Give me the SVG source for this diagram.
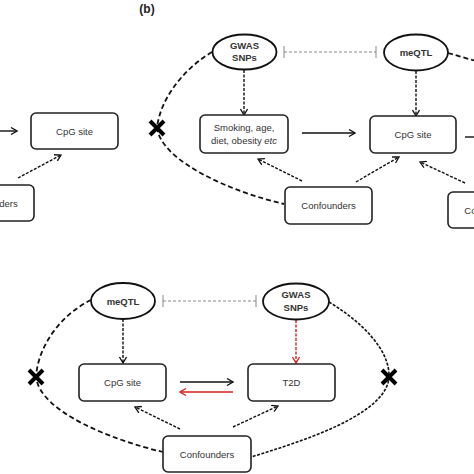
<svg xmlns="http://www.w3.org/2000/svg" width="474" height="474" viewBox="0 0 474 474">
<defs>
<style>
.box{fill:#fff;stroke:#222;stroke-width:1.6}
.ell{fill:#fff;stroke:#111;stroke-width:1.8}
.t{font-family:"Liberation Sans",Arial,sans-serif;font-size:9.5px;fill:#333;text-anchor:middle}
.tb{font-family:"Liberation Sans",Arial,sans-serif;font-size:9.5px;font-weight:bold;fill:#333;text-anchor:middle}
.solid{stroke:#111;stroke-width:1.4;fill:none}
.dash{stroke:#111;stroke-width:1.4;fill:none;stroke-dasharray:3,1.5}
.red{stroke:#d42020}
.curve{stroke:#111;stroke-width:1.8;fill:none;stroke-dasharray:5,3}
.inh{stroke:#888;stroke-width:1;fill:none;stroke-dasharray:3,2}
.bar{stroke:#888;stroke-width:1}
.x{stroke:#000;stroke-width:4}
</style>
<marker id="ah" viewBox="0 0 8 8" refX="7" refY="4" markerWidth="8" markerHeight="8" markerUnits="userSpaceOnUse" orient="auto">
<path d="M1,0.5 L7,4 L1,7.5" fill="none" stroke="#111" stroke-width="1.3"/>
</marker>
<marker id="ahr" viewBox="0 0 8 8" refX="7" refY="4" markerWidth="8" markerHeight="8" markerUnits="userSpaceOnUse" orient="auto">
<path d="M1,0.5 L7,4 L1,7.5" fill="none" stroke="#d42020" stroke-width="1.3"/>
</marker>
</defs>
<rect width="474" height="474" fill="#fff"/>
<text x="147" y="13" font-family="'Liberation Sans',Arial,sans-serif" font-size="12" font-weight="bold" fill="#222" text-anchor="middle">(b)</text>

<g id="connectors">
<line class="solid" x1="0" y1="131" x2="17" y2="131" marker-end="url(#ah)"/>
<line class="dash" x1="18" y1="178" x2="61" y2="155" marker-end="url(#ah)"/>
<path class="curve" d="M212,52 C182,70 160,100 157,128 C162,162 232,192 284,204"/>
<line class="inh" x1="284" y1="52" x2="376" y2="52"/>
<line class="bar" x1="284" y1="46" x2="284" y2="58"/>
<line class="bar" x1="376" y1="46" x2="376" y2="58"/>
<line class="dash" x1="244" y1="70" x2="244" y2="115" marker-end="url(#ah)"/>
<line class="dash" x1="416" y1="71" x2="416" y2="116" marker-end="url(#ah)"/>
<line class="solid" x1="302" y1="133" x2="355" y2="133" marker-end="url(#ah)"/>
<line class="solid" x1="465" y1="137" x2="480" y2="137"/>
<line class="curve" x1="448" y1="53" x2="476" y2="61"/>
<line class="dash" x1="302" y1="181" x2="258" y2="159" marker-end="url(#ah)"/>
<line class="dash" x1="356" y1="182" x2="399" y2="157" marker-end="url(#ah)"/>
<line class="dash" x1="465" y1="183" x2="420" y2="162" marker-end="url(#ah)"/>
<path class="curve" d="M91,300 C62,314 38,345 36,377 C40,412 112,440 163,452"/>
<path class="dash" style="stroke-width:1.6" d="M329,302 C362,322 390,350 389,377 C387,415 300,442 251,457"/>
<line class="inh" x1="163" y1="301" x2="256" y2="301"/>
<line class="bar" x1="163" y1="295" x2="163" y2="307"/>
<line class="bar" x1="256" y1="295" x2="256" y2="307"/>
<line class="dash" x1="123" y1="319" x2="123" y2="363" marker-end="url(#ah)"/>
<line class="dash red" x1="296" y1="320" x2="296" y2="363" marker-end="url(#ahr)"/>
<line class="solid" x1="180" y1="382" x2="233" y2="382" marker-end="url(#ah)"/>
<line class="solid red" x1="233" y1="392" x2="180" y2="392" marker-end="url(#ahr)"/>
<line class="dash" x1="180" y1="429" x2="135" y2="407" marker-end="url(#ah)"/>
<line class="dash" x1="233" y1="427" x2="278" y2="406" marker-end="url(#ah)"/>
<path class="x" d="M150,121 L164,135 M164,121 L150,135"/>
<path class="x" d="M29,370 L43,384 M43,370 L29,384"/>
<path class="x" d="M382,370 L396,384 M396,370 L382,384"/>
</g>

<g id="tl-cpg"><rect class="box" x="31" y="113" width="87" height="36" rx="5"/><text class="t" x="74.5" y="134.5">CpG site</text></g>
<g id="tl-conf"><rect class="box" x="-53" y="185" width="87" height="36" rx="5"/><text class="t" x="-9.5" y="206.5">Confounders</text></g>

<g id="gwas-top"><ellipse class="ell" cx="244.5" cy="52" rx="32" ry="17.5"/><text class="tb" x="244.5" y="49">GWAS</text><text class="tb" x="244.5" y="61">SNPs</text></g>
<g id="meqtl-top"><ellipse class="ell" cx="416" cy="52.5" rx="32" ry="18"/><text class="tb" x="416" y="56">meQTL</text></g>
<g id="smoking"><rect class="box" x="200" y="115" width="88" height="38" rx="5"/><text class="t" x="244" y="131">Smoking, age,</text><text class="t" x="244" y="143.5">diet, obesity <tspan font-style="italic">etc</tspan></text></g>
<g id="cpg-top"><rect class="box" x="370" y="116" width="86" height="37" rx="5"/><text class="t" x="413" y="138">CpG site</text></g>
<g id="conf-top"><rect class="box" x="285" y="187" width="87" height="37" rx="5"/><text class="t" x="328.5" y="209">Confounders</text></g>
<g id="conf-right"><rect class="box" x="448" y="192" width="87" height="36" rx="5"/><text class="t" x="491.5" y="214">Confounders</text></g>

<g id="meqtl-bot"><ellipse class="ell" cx="123" cy="301" rx="32" ry="18"/><text class="tb" x="123" y="304.5">meQTL</text></g>
<g id="gwas-bot"><ellipse class="ell" cx="296" cy="301.5" rx="33" ry="18"/><text class="tb" x="296" y="298">GWAS</text><text class="tb" x="296" y="310.5">SNPs</text></g>
<g id="cpg-bot"><rect class="box" x="79" y="364" width="87" height="37" rx="5"/><text class="t" x="122.5" y="386">CpG site</text></g>
<g id="t2d"><rect class="box" x="248" y="364" width="87" height="37" rx="5"/><text class="t" x="291.5" y="386">T2D</text></g>
<g id="conf-bot"><rect class="box" x="163" y="436" width="88" height="36" rx="5"/><text class="t" x="207" y="458">Confounders</text></g>
</svg>
